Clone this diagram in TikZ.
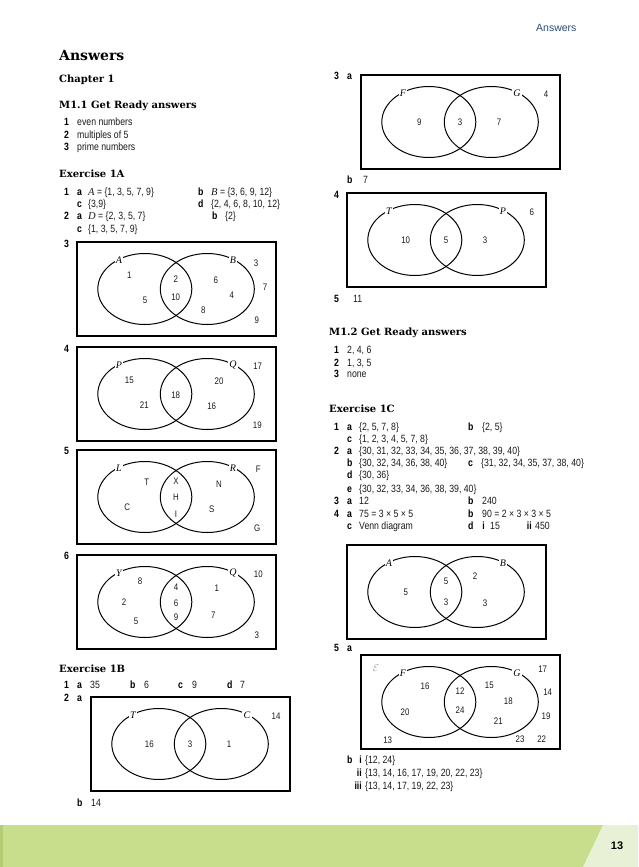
\documentclass[tikz,border=0pt]{standalone}
\usepackage{fontspec}
\setmainfont{Liberation Sans}[FakeStretch=0.83]
\newfontfamily\hdfamily{DejaVu Serif}
\newfontfamily\serfamily{Liberation Serif}
\newfontfamily\plainsans{Liberation Sans}
\usetikzlibrary{shapes.geometric}
\definecolor{txt}{HTML}{1A1A1A}
\definecolor{hdblue}{HTML}{2E4A7A}
\definecolor{band}{HTML}{C9DE8C}
\definecolor{bandlt}{HTML}{E8F1D6}
\definecolor{bandedge}{HTML}{B4CC73}
\newcommand\bodysz{\fontsize{10.5}{12}\selectfont}
\newcommand\vsz{\fontsize{9.5}{10}\selectfont}
\newcommand\mv[1]{{\serfamily\itshape #1}}
\newcommand\venn[5]{%
  \node[vbox] (#1box) at (#2+99.5,#3+47) {};
  \node[vell] (#1L) at (#2+67.8,#3+47) {};
  \node[vell] (#1R) at (#2+130.3,#3+47) {};
  \node[setlab] (#1la) at (#2+42,#3+18) {#4};
  \node[setlab] (#1lb) at (#2+156,#3+18) {#5};
}
\tikzset{
  tx/.style={anchor=base west, inner sep=0pt, font=\bodysz, text=txt},
  lb/.style={anchor=base west, inner sep=0pt, font=\bodysz\bfseries, text=black},
  lbe/.style={anchor=base east, inner sep=0pt, font=\bodysz\bfseries, text=black},
  hx/.style={anchor=base west, inner sep=0pt, font=\hdfamily\bfseries\fontsize{10}{12}\selectfont},
  vn/.style={inner sep=0pt, font=\vsz, text=txt},
  vbox/.style={draw, line width=1.1pt, minimum width=199pt, minimum height=94pt, inner sep=0pt, outer sep=0pt},
  vell/.style={draw, ellipse, line width=1.0pt, minimum width=94pt, minimum height=71pt, inner sep=0pt, outer sep=0pt},
  setlab/.style={fill=white, inner sep=1.3pt, font=\serfamily\itshape\fontsize{10}{11}\selectfont},
}
\begin{document}
\begin{tikzpicture}[x=1pt,y=-1pt]
\useasboundingbox (0,0) rectangle (638,867);
\fill[white] (0,0) rectangle (638,867);
% header
\node[anchor=base west, inner sep=0pt, font=\plainsans\fontsize{10.5}{12}\selectfont, text=hdblue] (hdr) at (536,32) {Answers};
% footer
\fill[band] (0,825) rectangle (638,867);
\fill[bandedge] (0,825) rectangle (3,867);
\fill[bandlt] (603,825) -- (638,825) -- (638,867) -- (583,867) -- cycle;
\node[inner sep=0pt, font=\plainsans\bfseries\fontsize{11}{12}\selectfont] (pg) at (617,846) {13};

% ===== left column =====
\node[hx, font=\hdfamily\bfseries\fontsize{14}{16}\selectfont] (title) at (59,61) {Answers};
\node[hx] (ch1) at (59,82) {Chapter 1};
\node[hx] (m11) at (59,108) {M1.1 Get Ready answers};
\node[lb] (g1n) at (64,125) {1}; \node[tx] (g1t) at (77,125) {even numbers};
\node[lb] (g2n) at (64,138) {2}; \node[tx] (g2t) at (77,138) {multiples of 5};
\node[lb] (g3n) at (64,150) {3}; \node[tx] (g3t) at (77,150) {prime numbers};
\node[hx] (e1a) at (59,177) {Exercise 1A};
\node[lb] (a1n) at (64,195) {1}; \node[lb] (a1a) at (77,195) {a}; \node[tx] (a1at) at (88,195) {\mv{A} = \{1, 3, 5, 7, 9\}};
\node[lb] (a1b) at (198,195) {b}; \node[tx] (a1bt) at (211,195) {\mv{B} = \{3, 6, 9, 12\}};
\node[lb] (a1c) at (77,207) {c}; \node[tx] (a1ct) at (88,207) {\{3,9\}};
\node[lb] (a1d) at (198,207) {d}; \node[tx] (a1dt) at (211,207) {\{2, 4, 6, 8, 10, 12\}};
\node[lb] (a2n) at (64,219) {2}; \node[lb] (a2a) at (77,219) {a}; \node[tx] (a2at) at (88,219) {\mv{D} = \{2, 3, 5, 7\}};
\node[lb] (a2b) at (212,219) {b}; \node[tx] (a2bt) at (225,219) {\{2\}};
\node[lb] (a2c) at (77,232) {c}; \node[tx] (a2ct) at (88,232) {\{1, 3, 5, 7, 9\}};

% Q3
\node[lb] (q3) at (64,247) {3};
\venn{dA}{77}{242}{A}{B}
\node[vn] (dA1) at (129.3,275) {1};
\node[vn] (dA5) at (145,300) {5};
\node[vn] (dA2) at (175.7,279.3) {2};
\node[vn] (dA10) at (175.7,297.3) {10};
\node[vn] (dA6) at (215.7,280) {6};
\node[vn] (dA4) at (231.7,295.7) {4};
\node[vn] (dA8) at (203.3,310.7) {8};
\node[vn] (dA3) at (256,263.3) {3};
\node[vn] (dA7) at (265,287.3) {7};
\node[vn] (dA9) at (256.7,320.7) {9};

% Q4
\node[lb] (q4) at (64,352) {4};
\venn{dP}{77}{347}{P}{Q}
\node[vn] (dP17) at (257.7,366.7) {17};
\node[vn] (dP15) at (129.3,380.7) {15};
\node[vn] (dP20) at (219,381.7) {20};
\node[vn] (dP18) at (175.7,395.7) {18};
\node[vn] (dP21) at (144.3,405) {21};
\node[vn] (dP16) at (211.7,406.7) {16};
\node[vn] (dP19) at (257.3,425.7) {19};

% Q5
\node[lb] (q5) at (64,454) {5};
\venn{dL}{77}{450}{L}{R}
\node[vn] (dLF) at (258.3,469.3) {F};
\node[vn] (dLT) at (146.7,482.3) {T};
\node[vn] (dLX) at (176,481.7) {X};
\node[vn] (dLN) at (219,484) {N};
\node[vn] (dLH) at (176,497.3) {H};
\node[vn] (dLC) at (127.3,507.3) {C};
\node[vn] (dLS) at (211.7,509) {S};
\node[vn] (dLI) at (176,514) {I};
\node[vn] (dLG) at (257.3,528.3) {G};

% Q6
\node[lb] (q6) at (64,559) {6};
\venn{dY}{77}{555}{Y}{Q}
\node[vn] (dY10) at (258.3,574.3) {10};
\node[vn] (dY8) at (140,581.7) {8};
\node[vn] (dY4) at (176,587.3) {4};
\node[vn] (dY1) at (216.7,588.3) {1};
\node[vn] (dY2) at (124,601.7) {2};
\node[vn] (dY6) at (176,603.3) {6};
\node[vn] (dY7) at (213.3,615) {7};
\node[vn] (dY5) at (136,621.7) {5};
\node[vn] (dY9) at (176,617.7) {9};
\node[vn] (dY3) at (256.7,635) {3};

% Exercise 1B
\node[hx] (e1b) at (59,672) {Exercise 1B};
\node[lb] (b1n) at (64,688) {1}; \node[lb] (b1a) at (77,688) {a}; \node[tx] (b1at) at (90,688) {35};
\node[lb] (b1b) at (130,688) {b}; \node[tx] (b1bt) at (144,688) {6};
\node[lb] (b1c) at (178,688) {c}; \node[tx] (b1ct) at (192,688) {9};
\node[lb] (b1d) at (227,688) {d}; \node[tx] (b1dt) at (240,688) {7};
\node[lb] (b2n) at (64,701) {2}; \node[lb] (b2a) at (77,701) {a};
\venn{dT}{91}{697}{T}{C}
\node[vn] (dT14) at (276,716) {14};
\node[vn] (dT16) at (149.3,744.3) {16};
\node[vn] (dT3) at (190,744.3) {3};
\node[vn] (dT1) at (229,744.3) {1};
\node[lb] (b2b) at (77,806) {b}; \node[tx] (b2bt) at (91,806) {14};

% ===== right column =====
\node[lb] (r3n) at (334,80) {3}; \node[lb] (r3a) at (347,80) {a};
\venn{dF}{361}{75}{F}{G}
\node[vn] (dF4) at (546,94.3) {4};
\node[vn] (dF9) at (419.3,122.7) {9};
\node[vn] (dF3) at (460,122.7) {3};
\node[vn] (dF7) at (499,122.7) {7};
\node[lb] (r3b) at (347,183) {b}; \node[tx] (r3bt) at (363,183) {7};

\node[lb] (r4n) at (334,198) {4};
\venn{dTP}{347}{193}{T}{P}
\node[vn] (dTP6) at (531.7,212.3) {6};
\node[vn] (dTP10) at (405.7,240.7) {10};
\node[vn] (dTP5) at (446,240.7) {5};
\node[vn] (dTP3) at (485,240.7) {3};

\node[lb] (r5n) at (334,302) {5}; \node[tx] (r5t) at (353,302) {11};

\node[hx] (m12) at (329,335) {M1.2 Get Ready answers};
\node[lb] (h1n) at (334,353) {1}; \node[tx] (h1t) at (347,353) {2, 4, 6};
\node[lb] (h2n) at (334,366) {2}; \node[tx] (h2t) at (347,366) {1, 3, 5};
\node[lb] (h3n) at (334,377) {3}; \node[tx] (h3t) at (347,377) {none};

\node[hx] (e1c) at (329,412) {Exercise 1C};
\node[lb] (c1n) at (334,430) {1}; \node[lb] (c1a) at (347,430) {a}; \node[tx] (c1at) at (359,430) {\{2, 5, 7, 8\}};
\node[lb] (c1b) at (468,430) {b}; \node[tx] (c1bt) at (482,430) {\{2, 5\}};
\node[lb] (c1c) at (347,442) {c}; \node[tx] (c1ct) at (359,442) {\{1, 2, 3, 4, 5, 7, 8\}};
\node[lb] (c2n) at (334,454) {2}; \node[lb] (c2a) at (347,454) {a}; \node[tx] (c2at) at (359,454) {\{30, 31, 32, 33, 34, 35, 36, 37, 38, 39, 40\}};
\node[lb] (c2b) at (347,466) {b}; \node[tx] (c2bt) at (359,466) {\{30, 32, 34, 36, 38, 40\}};
\node[lb] (c2c) at (468,466) {c}; \node[tx] (c2ct) at (481,466) {\{31, 32, 34, 35, 37, 38, 40\}};
\node[lb] (c2d) at (347,478) {d}; \node[tx] (c2dt) at (359,478) {\{30, 36\}};
\node[lb] (c2e) at (347,492) {e}; \node[tx] (c2et) at (359,492) {\{30, 32, 33, 34, 36, 38, 39, 40\}};
\node[lb] (c3n) at (334,504) {3}; \node[lb] (c3a) at (347,504) {a}; \node[tx] (c3at) at (359,504) {12};
\node[lb] (c3b) at (468,504) {b}; \node[tx] (c3bt) at (482,504) {240};
\node[lb] (c4n) at (334,517) {4}; \node[lb] (c4a) at (347,517) {a}; \node[tx] (c4at) at (359,517) {75 = 3 × 5 × 5};
\node[lb] (c4b) at (468,517) {b}; \node[tx] (c4bt) at (482,517) {90 = 2 × 3 × 3 × 5};
\node[lb] (c4c) at (347,529) {c}; \node[tx] (c4ct) at (359,529) {Venn diagram};
\node[lb] (c4d) at (468,529) {d}; \node[lbe] (c4di) at (485,529) {i}; \node[tx] (c4dit) at (490,529) {15};
\node[lbe] (c4dii) at (532,529) {ii}; \node[tx] (c4diit) at (535,529) {450};
\venn{dAB}{347}{545}{A}{B}
\node[vn] (dAB5a) at (405.7,592.7) {5};
\node[vn] (dAB5b) at (446,581.7) {5};
\node[vn] (dAB3a) at (446,602.3) {3};
\node[vn] (dAB2) at (475,576) {2};
\node[vn] (dAB3b) at (485,603.3) {3};

\node[lb] (c5n) at (334,651) {5}; \node[lb] (c5a) at (347,651) {a};
\venn{dFG}{361}{655}{F}{G}
\node[inner sep=0pt, text=gray!70] (dFGU) at (376,668.3) {$\mathcal{E}$};
\node[vn] (dFG17) at (542.7,669.3) {17};
\node[vn] (dFG16) at (425,686.7) {16};
\node[vn] (dFG12) at (460,691) {12};
\node[vn] (dFG15) at (489.3,685.7) {15};
\node[vn] (dFG14) at (547.7,692.3) {14};
\node[vn] (dFG18) at (508.3,701) {18};
\node[vn] (dFG20) at (405,712.7) {20};
\node[vn] (dFG24) at (460,710) {24};
\node[vn] (dFG21) at (498.3,720.7) {21};
\node[vn] (dFG19) at (546,716.7) {19};
\node[vn] (dFG13) at (387.7,740.7) {13};
\node[vn] (dFG23) at (520,739) {23};
\node[vn] (dFG22) at (541.7,739) {22};

\node[lb] (c5b) at (347,763) {b};
\node[lbe] (c5bi) at (362,763) {i}; \node[tx] (c5bit) at (365,763) {\{12, 24\}};
\node[lbe] (c5bii) at (362,776) {ii}; \node[tx] (c5biit) at (365,776) {\{13, 14, 16, 17, 19, 20, 22, 23\}};
\node[lbe] (c5biii) at (362,789) {iii}; \node[tx] (c5biiit) at (365,789) {\{13, 14, 17, 19, 22, 23\}};
\end{tikzpicture}
\end{document}
